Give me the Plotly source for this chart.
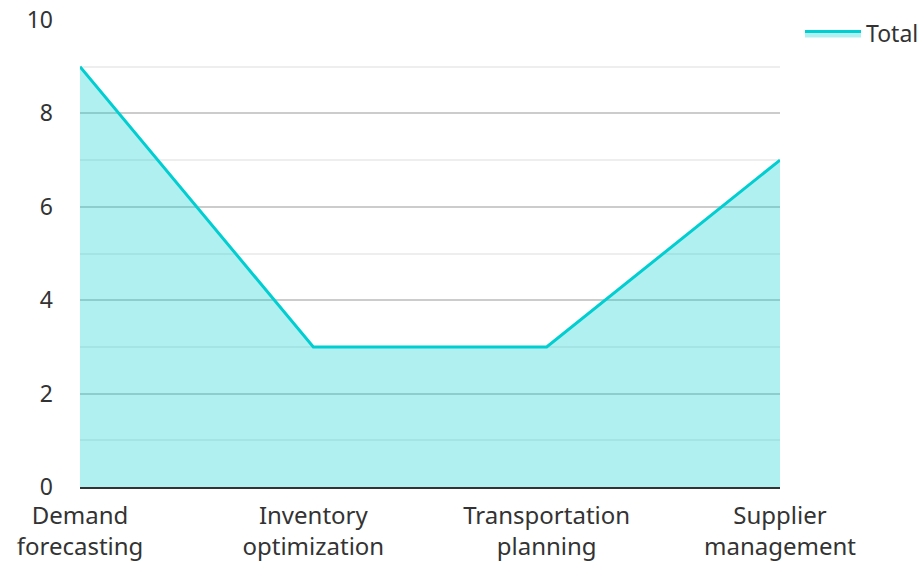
import plotly.graph_objects as go

categories = ["Demand<br>forecasting", "Inventory<br>optimization", "Transportation<br>planning", "Supplier<br>management"]
values = [9, 3, 3, 7]
series_name = "Total"

fig = go.Figure()
fig.add_trace(go.Scatter(
    x=categories, y=values, name=series_name, mode="lines",
    line=dict(color="#00CED1", width=3),
    fill="tozeroy", fillcolor="rgba(0,206,209,0.31)",
    showlegend=True,
))

fig.update_layout(
    width=923, height=562,
    margin=dict(l=80, r=143, t=20, b=75, autoexpand=False),
    paper_bgcolor="white", plot_bgcolor="white",
    font=dict(family="Noto Sans", size=24, color="#333333"),
    legend=dict(x=800 / 923, y=1 - 12 / 562, xref="container", yref="container",
                xanchor="left", yanchor="top", itemwidth=56,
                font=dict(size=23, color="#333333"), bgcolor="rgba(0,0,0,0)"),
    xaxis=dict(
        range=[0, 3], showgrid=False, showline=True, linecolor="#333333", linewidth=2,
        ticks="", tickfont=dict(size=24, color="#333333"), ticklabelstandoff=6,
        zeroline=False, automargin=False,
    ),
    yaxis=dict(
        range=[0, 10], dtick=2, showgrid=True, gridcolor="#CCCCCC", gridwidth=1.5,
        minor=dict(dtick=1, showgrid=True, gridcolor="#EEEEEE", gridwidth=1.5),
        zeroline=False, showline=False, ticks="", automargin=False,
        tickfont=dict(size=23, color="#333333"), ticklabelstandoff=26,
    ),
)

fig.write_html("out.html", config={"displayModeBar": False},
               post_script="document.body.style.margin='0';")
